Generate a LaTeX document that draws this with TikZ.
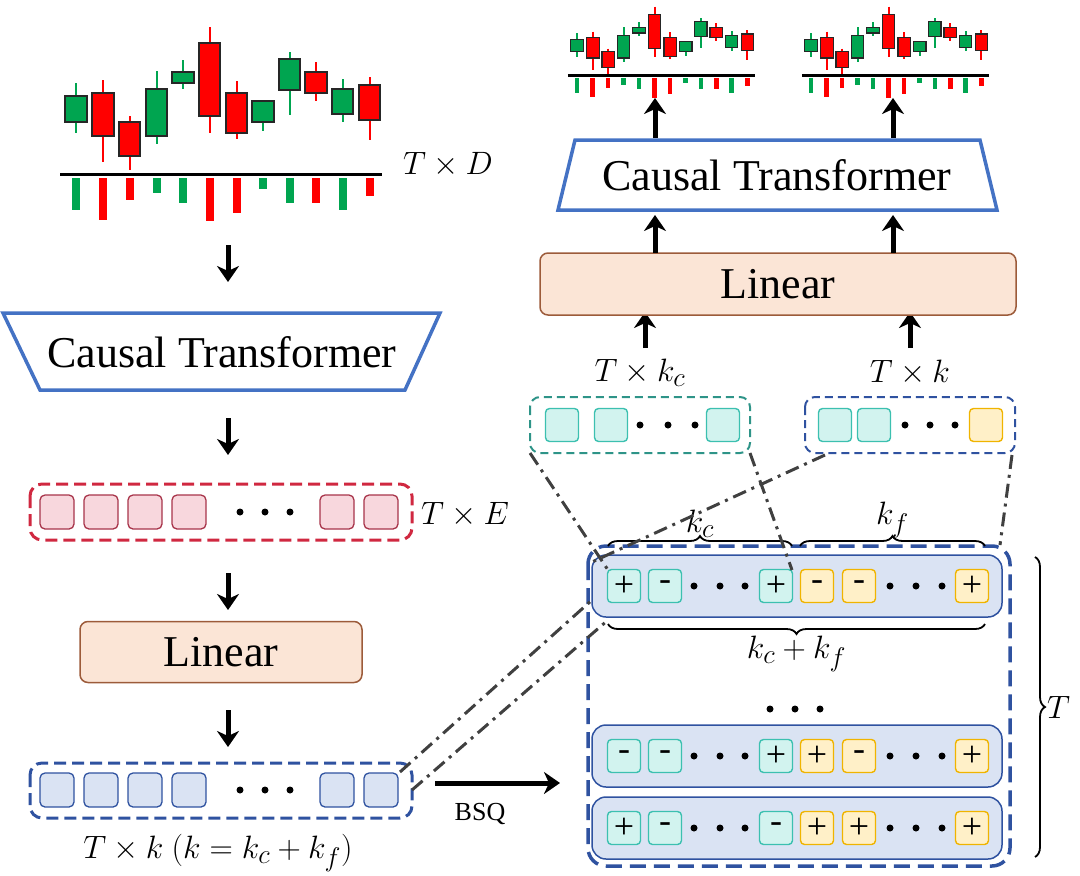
\documentclass[tikz,border=0pt]{standalone}
\usepackage{fontspec}
\setmainfont{Liberation Serif}
\usepackage{amsmath,graphicx}
\usetikzlibrary{arrows.meta,decorations.pathreplacing}
\definecolor{cg}{HTML}{00A550}
\definecolor{cr}{HTML}{FF0000}
\definecolor{bblue}{HTML}{4472C4}
\definecolor{dblue}{HTML}{2F52A0}
\definecolor{lblue}{HTML}{DAE3F3}
\definecolor{tealF}{HTML}{D2F3EF}
\definecolor{tealB}{HTML}{3CC0B0}
\definecolor{yelF}{HTML}{FFF0C8}
\definecolor{yelB}{HTML}{F0B400}
\definecolor{pinkF}{HTML}{F8D7DD}
\definecolor{pinkB}{HTML}{A8344A}
\definecolor{dred}{HTML}{D02840}
\definecolor{linF}{HTML}{FBE5D6}
\definecolor{linB}{HTML}{9C5B3A}
\definecolor{dteal}{HTML}{2E9488}
\newcommand\bmath[1]{\scalebox{1.3}{$#1$}}
\newcommand\cand[8]{% x1 x2 btop bbot wtop wbot col volbot
 \draw[#7,line width=2pt] ({(#1+#2)/2},#5) -- ({(#1+#2)/2},#6);
 \filldraw[fill=#7,draw=black!85,line width=1.2pt] (#1,#3) rectangle (#2,#4);
 \fill[#7] ({(#1+#2)/2-4},178) rectangle ({(#1+#2)/2+4},#8);
}
\newcommand\chart{%
 \cand{65}{87}{96}{122}{83}{133}{cg}{210}
 \cand{92}{114}{93}{136}{80}{162}{cr}{220}
 \cand{119}{140}{122}{156}{116}{170}{cr}{200}
 \cand{146}{167}{89}{136}{71}{144}{cg}{193}
 \cand{172}{194}{72}{83}{60}{89}{cg}{203}
 \cand{199}{220}{43}{116}{27}{133}{cr}{221}
 \cand{226}{247}{93}{133}{81}{139}{cr}{213}
 \cand{252}{274}{101}{122}{100}{131}{cg}{189}
 \cand{279}{300}{59}{90}{52}{115}{cg}{203}
 \cand{305}{327}{72}{93}{62}{101}{cr}{203}
 \cand{332}{353}{89}{114}{79}{122}{cg}{210}
 \cand{359}{380}{85}{120}{77}{140}{cr}{196}
 \draw[black,line width=3pt] (60,174) -- (382,174);
}
\tikzset{
 arr/.style={-{Stealth[length=16pt,width=22pt,inset=5pt]},line width=5pt},
 lin/.style={draw=linB,fill=linF,line width=1.5pt,rounded corners=8pt,font=\fontsize{44}{46}\selectfont},
 ct/.style={draw=bblue,fill=white,line width=3.5pt},
 ctt/.style={font=\fontsize{44}{46}\selectfont},
 cell/.style={draw=#1B,fill=#1F,line width=1.4pt,rounded corners=4pt,minimum width=33pt,minimum height=33pt,inner sep=0pt,font=\fontsize{36}{36}\selectfont},
 pc/.style={draw=pinkB,fill=pinkF,line width=1.3pt,rounded corners=5pt,minimum width=34pt,minimum height=34pt},
 bc/.style={draw=dblue,fill=lblue,line width=1.3pt,rounded corners=5pt,minimum width=34pt,minimum height=34pt},
 dot/.style={circle,fill=black,inner sep=0pt,minimum size=7pt},
 row/.style={draw=dblue,fill=lblue,line width=1.5pt,rounded corners=14pt},
 dd/.style={line width=3pt,dash pattern=on 14pt off 6pt on 3pt off 6pt,black!75},
 mth/.style={font=\fontsize{24.88}{28}\selectfont},
 br/.style={decorate,decoration={brace,amplitude=10pt},line width=1.8pt},
}
\begin{document}
\begin{tikzpicture}[x=1pt,y=-1pt]
\useasboundingbox (0,0) rectangle (1080,876);
\chart
\node[mth] (td) at (448,165) {\bmath{T\times D}};
\begin{scope}[shift={(533,-6)},xscale=0.58,yscale=0.47]\chart\end{scope}
\begin{scope}[shift={(767,-6)},xscale=0.58,yscale=0.47]\chart\end{scope}
% left column
\coordinate (a1s) at (228,245); \coordinate (a1e) at (228,282);
\draw[arr] (a1s) -- (a1e);
\draw[ct] (3,313) -- (440,313) -- (405,390) -- (40,390) -- cycle;
\node[ctt] (ctl) at (222,352) {Causal Transformer};
\coordinate (a2s) at (228,418); \coordinate (a2e) at (228,455);
\draw[arr] (a2s) -- (a2e);
\draw[dred,line width=3pt,dash pattern=on 12pt off 6pt,rounded corners=12pt] (30,484) rectangle (412,540);
\foreach \x/\n in {57/p1,101/p2,145/p3,189/p4,337/p5,381/p6} \node[pc] (\n) at (\x,512) {};
\foreach \x in {240,265,290} \node[dot] at (\x,512) {};
\node[mth] (te) at (465,515) {\bmath{T\times E}};
\coordinate (a3s) at (228,573); \coordinate (a3e) at (228,610);
\draw[arr] (a3s) -- (a3e);
\node[lin,minimum width=282pt,minimum height=61pt] (linl) at (221,652) {Linear};
\coordinate (a4s) at (228,710); \coordinate (a4e) at (228,747);
\draw[arr] (a4s) -- (a4e);
\draw[dblue,line width=3pt,dash pattern=on 12pt off 6pt,rounded corners=12pt] (30,763) rectangle (412,818);
\foreach \x/\n in {57/b1,101/b2,145/b3,189/b4,337/b5,381/b6} \node[bc] (\n) at (\x,790) {};
\foreach \x in {240,265,290} \node[dot] at (\x,790) {};
\node[mth] (tk) at (218,853) {\bmath{T\times k\ (k=k_c+k_f)}};
\coordinate (bs) at (435,783); \coordinate (be) at (560,783);
\draw[arr] (bs) -- (be);
\node[font=\fontsize{26}{28}\selectfont] (bsq) at (480,814) {BSQ};
% right grid
\draw[dblue,line width=3.5pt,dash pattern=on 16pt off 8pt,rounded corners=18pt] (588,546) rectangle (1010,866);
\node[row,minimum width=410pt,minimum height=62pt] (row1) at (797,586) {};
\node[row,minimum width=410pt,minimum height=62pt] (row2) at (797,756) {};
\node[row,minimum width=410pt,minimum height=62pt] (row3) at (797,828) {};
\def\cellrow#1#2#3#4#5#6#7{%
 \node[cell=teal] at (624,#1) {#2}; \node[cell=teal] at (665,#1) {#3};
 \node[cell=teal] at (776,#1) {#4}; \node[cell=yel] at (817,#1) {#5};
 \node[cell=yel] at (859,#1) {#6}; \node[cell=yel] at (972,#1) {#7};
 \foreach \x in {694,720,745,890,916,942} \node[dot] at (\x,#1) {};}
\cellrow{586}{+}{-}{+}{-}{-}{+}
\cellrow{756}{-}{-}{+}{+}{-}{+}
\cellrow{828}{+}{-}{-}{+}{+}{+}
\foreach \x in {770,795,820} \node[dot] at (\x,709) {};
\coordinate (bA) at (608,624); \coordinate (bB) at (985,624);
\draw[br] (bB) -- (bA) node[midway,below=8pt,mth] (kckf) {\bmath{k_c+k_f}};
\coordinate (kc1) at (608,546); \coordinate (kc2) at (792,546);
\draw[br] (kc1) -- (kc2) node[midway,above=4pt,mth] (kc) {\bmath{k_c}};
\coordinate (kf1) at (800,546); \coordinate (kf2) at (985,546);
\draw[br] (kf1) -- (kf2) node[midway,above=4pt,mth] (kf) {\bmath{k_f}};
\coordinate (T1) at (1035,557); \coordinate (T2) at (1035,857);
\draw[br] (T1) -- (T2) node[midway,right=8pt,mth] (Tl) {\bmath{T}};
% top small boxes
\draw[dteal,line width=2pt,dash pattern=on 8pt off 5pt,rounded corners=10pt] (530,397) rectangle (750,453);
\node[cell=teal] (t1) at (562,425) {}; \node[cell=teal] (t2) at (611,425) {};
\node[cell=teal] (t3) at (723,425) {};
\foreach \x in {640,668,695} \node[dot] at (\x,425) {};
\draw[dblue,line width=2pt,dash pattern=on 8pt off 5pt,rounded corners=10pt] (805,397) rectangle (1015,453);
\node[cell=teal] (u1) at (835,425) {}; \node[cell=teal] (u2) at (874,425) {};
\node[cell=yel] (u3) at (986,425) {};
\foreach \x in {905,930,955} \node[dot] at (\x,425) {};
\node[mth] (tkc) at (640,373) {\bmath{T\times k_c}};
\node[mth] (tkk) at (910,373) {\bmath{T\times k}};
% dash-dot connectors
\draw[dd] (530,453) -- (608,570);
\draw[dd] (750,453) -- (792,570);
\draw[dd] (825,455) -- (592,562);
\draw[dd] (1012,455) -- (1000,545);
\draw[dd] (400,772) -- (592,600);
\draw[dd] (412,790) -- (608,620);
% right stack
\foreach \x in {645,910}{\draw[arr] (\x,348) -- (\x,312);}
\node[lin,minimum width=476pt,minimum height=62pt] (linr) at (778,284) {Linear};
\foreach \x in {655,893}{\draw[arr] (\x,253) -- (\x,215);}
\draw[ct] (575,140) -- (980,140) -- (997,210) -- (558,210) -- cycle;
\node[ctt] (ctr) at (777,175) {Causal Transformer};
\foreach \x in {655,893}{\draw[arr] (\x,138) -- (\x,98);}
\end{tikzpicture}
\end{document}
